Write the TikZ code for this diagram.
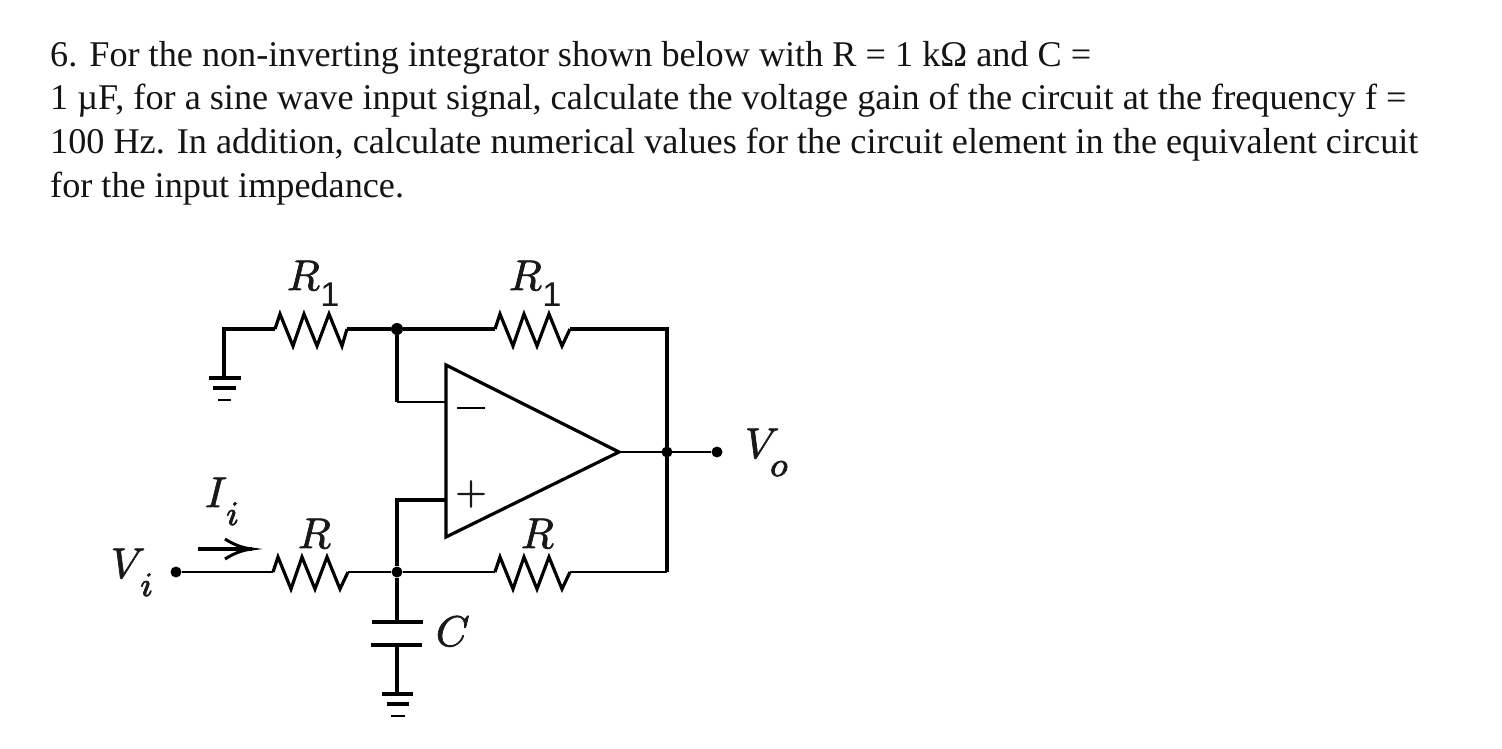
\documentclass[tikz,border=0pt]{standalone}
\usepackage{fontspec}
\newfontfamily\bodyfont{Liberation Serif}
\newfontfamily\subfont{Liberation Sans}
\newcommand{\heavy}[1]{\special{pdf:code 2 Tr 0.16 w}#1\special{pdf:code 0 Tr}}
\newcommand{\lowsub}[2]{\kern#1pt\lower4.2pt\hbox{\footnotesize$#2$}}
\newcommand{\lowone}{\special{pdf:code 0 Tr}\kern0.1pt\lower3.9pt\hbox{\subfont\footnotesize 1}}
\tikzset{
  x=1pt,y=-1pt,
  body/.style={anchor=base west,inner sep=0pt,font=\bodyfont\fontsize{36.2}{36.2}\selectfont,text=black!92},
  lab/.style={scale=4.3,inner sep=0pt,anchor=base west,text=black!90},
  fat/.style={line width=3.6pt,line join=miter},
  thin wire/.style={line width=2.4pt,line join=miter},
  zig/.style={line width=3.2pt,line join=miter},
  dotnode/.style={circle,fill=black,inner sep=0pt,minimum size=#1},
  dotnode/.default=11pt
}
\newcommand{\zigpath}[2]{%
  \draw[zig] (#1) -- ++(5,-15) -- ++(13,32) -- ++(11,-32) -- ++(13,32) -- ++(12,-32) -- ++(13,32) -- (#2);}
\begin{document}
\begin{tikzpicture}
\useasboundingbox (0,0) rectangle (1502,748);
\node[body] (l1) at (50,66) {6. For the non-inverting integrator shown below with R = 1 kΩ and C =};
\node[body] (l2) at (50,109) {1 µF, for a sine wave input signal, calculate the voltage gain of the circuit at the frequency f =};
\node[body] (l3) at (50,153) {100 Hz.  In addition, calculate numerical values for the circuit element in the equivalent circuit};
\node[body] (l4) at (50,197) {for the input impedance.};

% coordinates
\coordinate (gnd1) at (224,379);
\coordinate (r1a) at (275,329);
\coordinate (r1b) at (347,329);
\node[dotnode=12pt] (j1) at (397,329) {};
\coordinate (r2a) at (495,329);
\coordinate (r2b) at (570,329);
\coordinate (tr) at (667,329);
\coordinate (opT) at (446,365);
\coordinate (opB) at (446,537);
\coordinate (opO) at (619,452);
\coordinate (opM) at (446,402);
\coordinate (opP) at (446,500);
\coordinate (cornM) at (397,402);
\coordinate (cornP) at (397,500);
\node[dotnode=11pt] (j3) at (667,452) {};
\node[dotnode=11pt] (vo) at (717,452) {};
\coordinate (br) at (667,572);
\coordinate (r4a) at (495,572);
\coordinate (r4b) at (570,572);
\node[dotnode=11pt] (j2) at (397,572) {};
\coordinate (r3a) at (273,572);
\coordinate (r3b) at (348,572);
\node[dotnode=11pt] (vi) at (176,572) {};
\coordinate (capT) at (397,622);
\coordinate (capB) at (397,645);
\coordinate (gnd2) at (397,694);
\coordinate (arrA) at (198,549);
\coordinate (arrB) at (252,549);

% wires
\draw[fat] (gnd1) |- (r1a);
\draw[fat] (r1b) -- (j1) -- (r2a);
\draw[fat] (r2b) -- (tr) -- (br);
\draw[line width=3.6pt] (j1) -- (cornM);
\draw[line width=2.4pt] (cornM) -- (opM);
\draw[fat] (opP) -- (cornP) -- (j2);
\draw[thin wire] (vi) -- (r3a);
\draw[thin wire] (r3b) -- (j2) -- (r4a);
\draw[thin wire] (r4b) -- (br);
\draw[thin wire] (opO) -- (vo);
\draw[fat] (j2) -- (capT);
\draw[fat] (capB) -- (gnd2);
\zigpath{r1a}{r1b}
\zigpath{r2a}{r2b}
\zigpath{r3a}{r3b}
\zigpath{r4a}{r4b}

% op amp
\draw[line width=3.2pt,line join=miter] (opT) -- (opO) -- (opB) -- cycle;
\node[lab,scale=0.95,anchor=center] (plus) at (471,494) {\heavy{$+$}};
\draw[line width=2pt] (457,408) -- (485,408);

% capacitor
\draw[line width=3.6pt] (372,622) -- (423,622);
\draw[line width=3.6pt] (371,645) -- (422,645);

% grounds
\draw[fat] (209,378) -- (241,378);
\draw[fat] (213,388) -- (236,388);
\draw[line width=2pt] (218,400) -- (231,400);
\draw[fat] (382,694) -- (413,694);
\draw[fat] (387,704) -- (409,704);
\draw[line width=2pt] (391,716) -- (405,716);

% current arrow
\draw[line width=3.4pt] (arrA) -- (arrB);
\draw[line width=3pt] (225,539) .. controls (236,546) and (244,548) .. (arrB) .. controls (244,550) and (236,552) .. (225,559);

% labels
\node[lab] (lr1) at (286,290) {\heavy{$R\lowone$}};
\node[lab] (lr2) at (508,290) {\heavy{$R\lowone$}};
\node[lab] (lr3) at (297,548) {\heavy{$R$}};
\node[lab] (lr4) at (520,548) {\heavy{$R$}};
\node[lab] (lc) at (435,646) {\heavy{$C$}};
\node[lab] (li) at (204,507) {\heavy{$I\lowsub{-0.2}{i}$}};
\node[lab] (lvi) at (110,578) {\heavy{$V\lowsub{-1.2}{i}$}};
\node[lab] (lvo) at (744,458) {\heavy{$V\lowsub{-2.2}{o}$}};
\end{tikzpicture}
\end{document}
